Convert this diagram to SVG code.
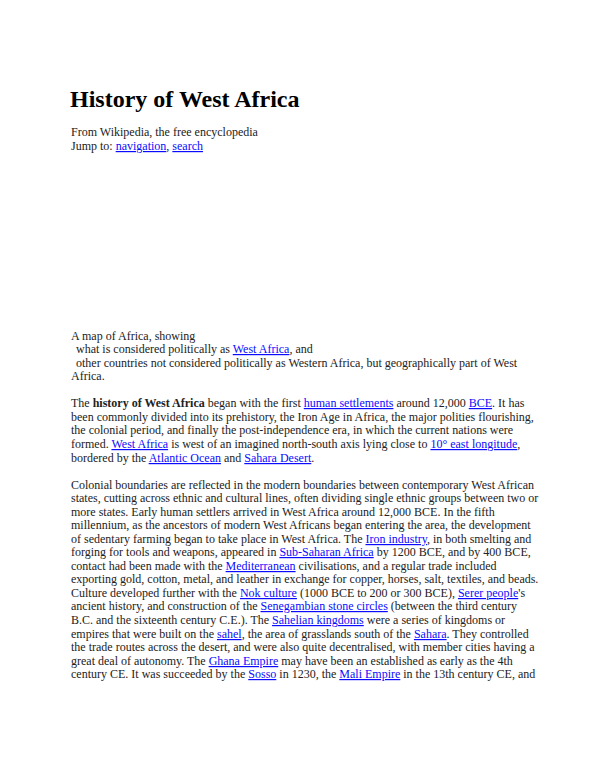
<svg xmlns="http://www.w3.org/2000/svg" width="600" height="776" viewBox="0 0 600 776">
<style>
text{font-family:"Liberation Serif","Times New Roman",serif;font-size:12px;fill:#222}
.a{fill:#0b0bff;text-decoration:underline}
.b{font-weight:bold}
.t{font-size:24px;font-weight:bold;fill:#000}
</style>
<rect width="600" height="776" fill="#fff"/>
<g id="title"><text class="t" x="70" y="107">History of West Africa</text></g>
<g id="header">
<text x="71" y="136">From Wikipedia, the free encyclopedia</text>
<text x="71" y="150">Jump to: <tspan class="a">navigation</tspan>, <tspan class="a">search</tspan></text>
</g>
<g id="caption">
<text x="71" y="340">A map of Africa, showing</text>
<text x="76" y="353">what is considered politically as <tspan class="a">West Africa</tspan>, and</text>
<text x="76" y="367">other countries not considered politically as Western Africa, but geographically part of West</text>
<text x="71" y="380">Africa.</text>
</g>
<g id="para1">
<text x="71" y="407">The <tspan class="b">history of West Africa</tspan> began with the first <tspan class="a">human settlements</tspan> around 12,000 <tspan class="a">BCE</tspan>. It has</text>
<text x="71" y="421">been commonly divided into its prehistory, the Iron Age in Africa, the major polities flourishing,</text>
<text x="71" y="434">the colonial period, and finally the post-independence era, in which the current nations were</text>
<text x="71" y="448">formed. <tspan class="a">West Africa</tspan> is west of an imagined north-south axis lying close to <tspan class="a">10° east longitude</tspan>,</text>
<text x="71" y="462">bordered by the <tspan class="a">Atlantic Ocean</tspan> and <tspan class="a">Sahara Desert</tspan>.</text>
</g>
<g id="para2">
<text x="71" y="489">Colonial boundaries are reflected in the modern boundaries between contemporary West African</text>
<text x="71" y="502">states, cutting across ethnic and cultural lines, often dividing single ethnic groups between two or</text>
<text x="71" y="516">more states. Early human settlers arrived in West Africa around 12,000 BCE. In the fifth</text>
<text x="71" y="529">millennium, as the ancestors of modern West Africans began entering the area, the development</text>
<text x="71" y="543">of sedentary farming began to take place in West Africa. The <tspan class="a">Iron industry</tspan>, in both smelting and</text>
<text x="71" y="556">forging for tools and weapons, appeared in <tspan class="a">Sub-Saharan Africa</tspan> by 1200 BCE, and by 400 BCE,</text>
<text x="71" y="570">contact had been made with the <tspan class="a">Mediterranean</tspan> civilisations, and a regular trade included</text>
<text x="71" y="583">exporting gold, cotton, metal, and leather in exchange for copper, horses, salt, textiles, and beads.</text>
<text x="71" y="597">Culture developed further with the <tspan class="a">Nok culture</tspan> (1000 BCE to 200 or 300 BCE), <tspan class="a">Serer people</tspan>'s</text>
<text x="71" y="610">ancient history, and construction of the <tspan class="a">Senegambian stone circles</tspan> (between the third century</text>
<text x="71" y="624">B.C. and the sixteenth century C.E.). The <tspan class="a">Sahelian kingdoms</tspan> were a series of kingdoms or</text>
<text x="71" y="638">empires that were built on the <tspan class="a">sahel</tspan>, the area of grasslands south of the <tspan class="a">Sahara</tspan>. They controlled</text>
<text x="71" y="651">the trade routes across the desert, and were also quite decentralised, with member cities having a</text>
<text x="71" y="665">great deal of autonomy. The <tspan class="a">Ghana Empire</tspan> may have been an established as early as the 4th</text>
<text x="71" y="678">century CE. It was succeeded by the <tspan class="a">Sosso</tspan> in 1230, the <tspan class="a">Mali Empire</tspan> in the 13th century CE, and</text>
</g>
</svg>
